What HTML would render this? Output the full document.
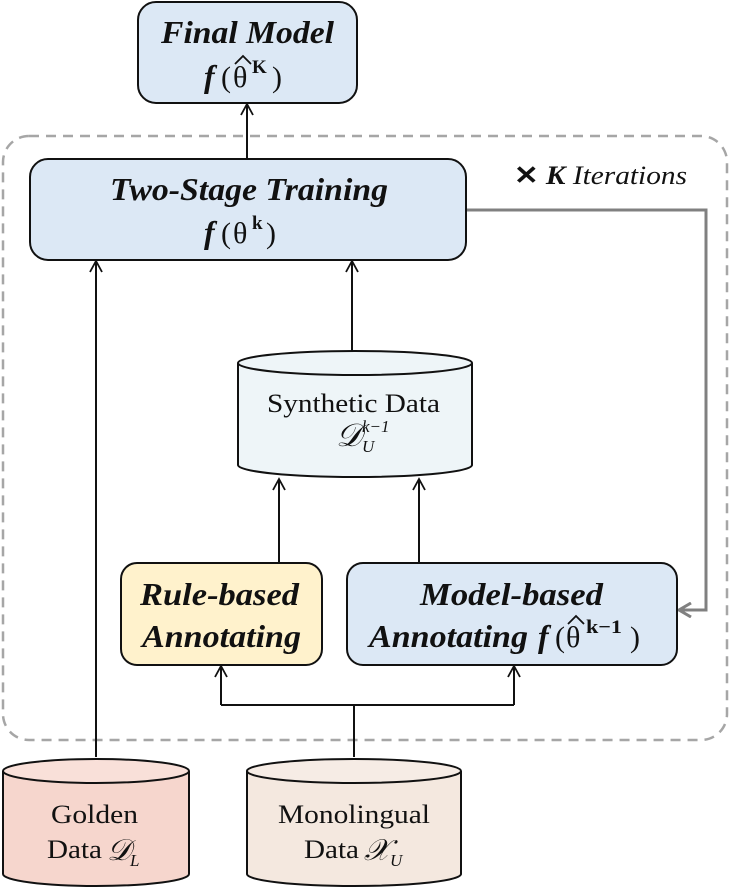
<!DOCTYPE html>
<html><head><style>
body{margin:0;background:#fff}
svg{display:block}
text{font-family:"Liberation Serif",serif;fill:#111}
</style></head><body>
<svg width="732" height="891" viewBox="0 0 732 891">
<defs>
<marker id="a" markerWidth="14" markerHeight="14" refX="12" refY="7" orient="auto" markerUnits="userSpaceOnUse">
<path d="M1,1 L12,7 L1,13" fill="none" stroke="#111" stroke-width="1.8"/></marker>
<marker id="g" markerWidth="16" markerHeight="16" refX="13" refY="8" orient="auto" markerUnits="userSpaceOnUse">
<path d="M1,1 L13,8 L1,15" fill="none" stroke="#808080" stroke-width="3"/></marker>
</defs>
<rect x="3" y="136" width="724" height="604" rx="26" fill="none" stroke="#a6a6a6" stroke-width="2.5" stroke-dasharray="10,7"/>
<g stroke="#111" stroke-width="2" fill="none">
<line x1="247" y1="159" x2="247" y2="104" marker-end="url(#a)"/>
<line x1="96" y1="757" x2="96" y2="261" marker-end="url(#a)"/>
<line x1="352" y1="351" x2="352" y2="261" marker-end="url(#a)"/>
<line x1="279" y1="563" x2="279" y2="479" marker-end="url(#a)"/>
<line x1="419" y1="563" x2="419" y2="479" marker-end="url(#a)"/>
<polyline points="354,757 354,705"/>
<polyline points="221,705 514,705"/>
<line x1="221" y1="705" x2="221" y2="666" marker-end="url(#a)"/>
<line x1="514" y1="705" x2="514" y2="666" marker-end="url(#a)"/>
</g>
<polyline points="466,210 706,210 706,610 679,610" fill="none" stroke="#808080" stroke-width="3" marker-end="url(#g)"/>

<rect x="138" y="2" width="219" height="101" rx="18" fill="#dce8f5" stroke="#111" stroke-width="2"/>
<text x="161" y="43" font-size="32" font-weight="bold" font-style="italic" textLength="173" lengthAdjust="spacingAndGlyphs">Final Model</text>
<text x="204" y="87" font-size="32" font-weight="bold" font-style="italic">f</text>
<text x="221" y="87" font-size="30">(</text>
<text x="233" y="87" font-size="30">θ</text>
<polyline points="235,64 243,56 251,64" fill="none" stroke="#111" stroke-width="1.8"/>
<text x="252" y="73" font-size="19" font-weight="bold">K</text>
<text x="272" y="87" font-size="30">)</text>

<rect x="30" y="159" width="436" height="101" rx="18" fill="#dce8f5" stroke="#111" stroke-width="2"/>
<text x="110" y="200" font-size="32" font-weight="bold" font-style="italic" textLength="278" lengthAdjust="spacingAndGlyphs">Two-Stage Training</text>
<text x="204" y="243" font-size="32" font-weight="bold" font-style="italic">f</text>
<text x="221" y="243" font-size="30">(</text>
<text x="233" y="243" font-size="30">θ</text>
<text x="252" y="229" font-size="19" font-weight="bold">k</text>
<text x="266" y="243" font-size="30">)</text>
<text x="514" y="184" font-size="26" font-style="italic" textLength="173" lengthAdjust="spacingAndGlyphs"><tspan font-weight="bold" font-style="normal" font-family="Liberation Sans">✕</tspan> <tspan font-weight="bold">K</tspan> Iterations</text>

<path d="M238,363 L238,465 A117,12 0 0 0 472,465 L472,363" fill="#eef5f8" stroke="#111" stroke-width="2"/>
<ellipse cx="355" cy="363" rx="117" ry="12" fill="#eef5f8" stroke="#111" stroke-width="2"/>
<text x="267" y="412" font-size="26" textLength="173" lengthAdjust="spacingAndGlyphs">Synthetic Data</text>
<text x="336" y="446" font-size="32" font-style="italic">𝒟</text>
<text x="362" y="432" font-size="17" font-style="italic">k−1</text>
<text x="362" y="452" font-size="17" font-style="italic">U</text>

<rect x="121" y="563" width="201" height="102" rx="16" fill="#fff2cc" stroke="#111" stroke-width="2"/>
<text x="140" y="605" font-size="32" font-weight="bold" font-style="italic" textLength="159" lengthAdjust="spacingAndGlyphs">Rule-based</text>
<text x="142" y="647" font-size="32" font-weight="bold" font-style="italic" textLength="159" lengthAdjust="spacingAndGlyphs">Annotating</text>

<rect x="347" y="563" width="330" height="102" rx="16" fill="#dce8f5" stroke="#111" stroke-width="2"/>
<text x="420" y="605" font-size="32" font-weight="bold" font-style="italic" textLength="183" lengthAdjust="spacingAndGlyphs">Model-based</text>
<text x="369" y="647" font-size="32" font-weight="bold" font-style="italic" textLength="159" lengthAdjust="spacingAndGlyphs">Annotating</text>
<text x="538" y="647" font-size="32" font-weight="bold" font-style="italic">f</text>
<text x="555" y="647" font-size="30">(</text>
<text x="566" y="647" font-size="30">θ</text>
<polyline points="568,624 576,616 584,624" fill="none" stroke="#111" stroke-width="1.8"/>
<text x="586" y="633" font-size="19" font-weight="bold" textLength="36" lengthAdjust="spacingAndGlyphs">k−1</text>
<text x="630" y="647" font-size="30">)</text>

<path d="M3,771 L3,874 A93,12 0 0 0 189,874 L189,771" fill="#f6d6cd" stroke="#111" stroke-width="2"/>
<ellipse cx="96" cy="771" rx="93" ry="12" fill="#f9e0d9" stroke="#111" stroke-width="2"/>
<text x="51" y="823" font-size="26" textLength="87" lengthAdjust="spacingAndGlyphs">Golden</text>
<text x="47" y="858" font-size="26" textLength="55" lengthAdjust="spacingAndGlyphs">Data</text>
<text x="107" y="860" font-size="30" font-style="italic">𝒟</text>
<text x="130" y="866" font-size="17" font-style="italic">L</text>

<path d="M247,771 L247,874 A107,12 0 0 0 461,874 L461,771" fill="#f4e8df" stroke="#111" stroke-width="2"/>
<ellipse cx="354" cy="771" rx="107" ry="12" fill="#f6ece5" stroke="#111" stroke-width="2"/>
<text x="278" y="823" font-size="26" textLength="152" lengthAdjust="spacingAndGlyphs">Monolingual</text>
<text x="304" y="858" font-size="26" textLength="55" lengthAdjust="spacingAndGlyphs">Data</text>
<text x="364" y="860" font-size="30" font-style="italic">𝒳</text>
<text x="390" y="866" font-size="17" font-style="italic">U</text>
</svg>
</body></html>
